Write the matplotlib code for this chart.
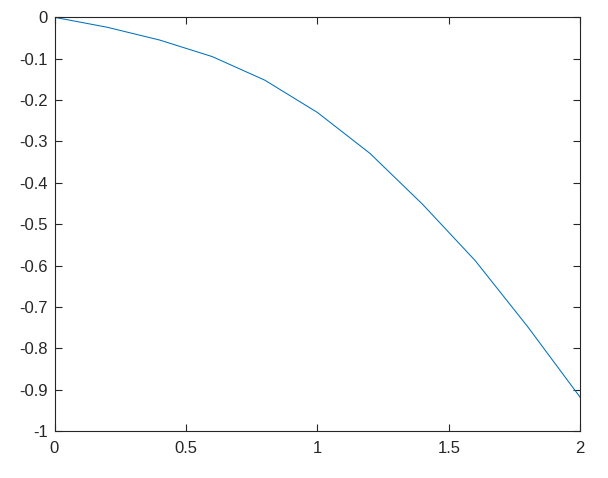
import matplotlib
matplotlib.use("Agg")
import matplotlib.pyplot as plt
from matplotlib.ticker import FuncFormatter

x = [0, 0.2, 0.4, 0.6, 0.8, 1.0, 1.2, 1.4, 1.6, 1.8, 2.0]
y = [0, -0.024, -0.055, -0.095, -0.152, -0.230, -0.329, -0.452, -0.588, -0.748, -0.919]
xticks = [0, 0.5, 1, 1.5, 2]
yticks = [0, -0.1, -0.2, -0.3, -0.4, -0.5, -0.6, -0.7, -0.8, -0.9, -1]

plt.rcParams['font.family'] = ['Liberation Sans', 'DejaVu Sans']
fig = plt.figure(figsize=(6.08, 4.78), dpi=100)
ax = fig.add_axes([54.5/608, 1-431/478, (580.3-54.5)/608, (431-17.3)/478])
ax.plot(x, y, color=(0, 0.447, 0.741), linewidth=0.75)
ax.set_xlim(0, 2)
ax.set_ylim(-1, 0)
ax.set_xticks(xticks)
ax.set_yticks(yticks)
fmt = FuncFormatter(lambda v, p: ('%g' % v).replace('\u2212', '-'))
ax.xaxis.set_major_formatter(fmt)
ax.yaxis.set_major_formatter(fmt)
ax.tick_params(direction='in', length=5, width=0.8, colors='#262626', labelsize=12,
               top=True, right=True)
ax.tick_params(axis='x', pad=7)
ax.tick_params(axis='y', pad=5)
for s in ax.spines.values():
    s.set_color('#262626')
    s.set_linewidth(0.8)
fig.savefig('out.png', dpi=100)
